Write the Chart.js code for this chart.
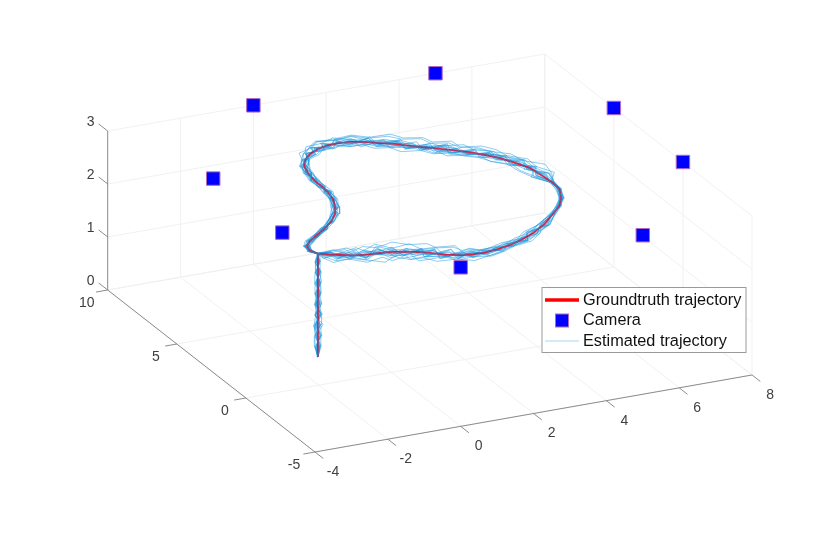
<!DOCTYPE html>
<html lang="en">
<head>
  <meta charset="UTF-8">
  <title>Trajectory</title>
  <script src="https://cdn.jsdelivr.net/npm/chart.js"></script>
  <style>
    body { margin: 0; background: #fff; }
    #myChart { display: block; filter: blur(0.45px); }
  </style>
</head>
<body>
  <canvas id="myChart" width="831" height="533"></canvas>

  <script>
    // Axis ticks of the 3D box
    const xTicks = [-4, -2, 0, 2, 4, 6, 8];
    const yTicks = [-5, 0, 5, 10];
    const zTicks = [0, 1, 2, 3];

    // Cameras (metres)
    const camX = [0, 5, 8, 8, -3, -3, 5, 0];
    const camY = [10, 10, 5, 0, 5, 0, -5, -5];
    const camZ = [3, 3, 3, 3, 3, 3, 3, 3];

    // Groundtruth trajectory: climb, then the loop
    const gtX = [-1.21, -1.21, -1.21, -1.21, -1.21, -1.21, -1.21, -1.21, -1.21, -1.21,
      -1.21, -1.01, -0.75, -0.50, -0.19, 0.20, 0.50, 0.80, 1.08, 1.32, 1.61, 1.93, 2.22, 2.57, 2.96,
      3.34, 3.77, 4.20, 4.69, 5.19, 5.56, 5.84, 6.05, 6.09, 6.04, 6.00, 5.81, 5.61, 5.36, 5.10, 4.82,
      4.53, 4.23, 3.94, 3.66, 3.35, 3.05, 2.71, 2.41, 2.09, 1.79, 1.47, 1.19, 0.99, 0.88, 0.81, 0.80,
      0.78, 0.69, 0.52, 0.31, -0.01, -0.37, -0.75, -1.03, -1.24, -1.31, -1.21];
    const gtY = [2.14, 2.14, 2.14, 2.14, 2.14, 2.14, 2.14, 2.14, 2.14, 2.14,
      2.14, 1.94, 1.74, 1.55, 1.41, 1.36, 1.28, 1.14, 0.93, 0.70, 0.38, 0.15, 0.02, 0.00, 0.09,
      0.24, 0.49, 0.84, 1.33, 2.01, 2.53, 3.10, 3.82, 4.44, 5.11, 5.79, 6.37, 6.94, 7.37, 7.76, 8.11,
      8.42, 8.74, 9.05, 9.40, 9.67, 9.95, 10.15, 10.23, 10.19, 10.05, 9.78, 9.39, 8.95, 8.37, 7.76, 7.21,
      6.66, 6.07, 5.43, 4.91, 4.36, 3.92, 3.50, 3.20, 2.86, 2.45, 2.14];
    const gtZ = [0, 0.2, 0.4, 0.6, 0.8, 1, 1.2, 1.4, 1.6, 1.8,
      1.95, 1.95, 1.95, 1.95, 1.95, 1.95, 1.95, 1.95, 1.95, 1.95, 1.95, 1.95, 1.95, 1.95, 1.95,
      1.95, 1.95, 1.95, 1.95, 1.95, 1.95, 1.95, 1.95, 1.95, 1.95, 1.95, 1.95, 1.95, 1.95, 1.95, 1.95,
      1.95, 1.95, 1.95, 1.95, 1.95, 1.95, 1.95, 1.95, 1.95, 1.95, 1.95, 1.95, 1.95, 1.95, 1.95, 1.95,
      1.95, 1.95, 1.95, 1.95, 1.95, 1.95, 1.95, 1.95, 1.95, 1.95, 1.95];

    // Estimated runs: sideways error from the groundtruth at each point, in cm
    const run1 = [0,3,-4,6,-2,4,-3,5,-2,3,-2, 10,-25,18,-30,35,-12,28,-40,20,-15,30,-22,14, -8,12,-10,14,-6, 4,-3,5,-2,6, -15,10,-22,8,-18, 12,-20,30,-12,24,-35,10,-28,18,-14,30,-10,6, -3,5,-6,3,-8,6,-4,7,-5,4,-6,8,-3,5,-4,2];
    const run2 = [0,-5,7,-3,9,-6,3,-4,6,-3,4, -20,-45,-30,-60,-35,-70,-48,-62,-40,-55,-32,-50,-28, -20,-12,-22,-10,-15, -6,-3,-7,-4,-5, -30,-45,-25,-40,-30, -40,-25,-50,-35,-60,-40,-55,-30,-48,-26,-42,-20,-30, -8,-12,-6,-10,-7,-11,-5,-9,-12,-7,-10,-6,-8,-4,-6,-2];
    const run3 = [0,4,-2,5,-7,10,-4,2,-5,4,1, 30,55,40,70,45,80,55,68,42,60,36,52,25, 22,14,24,10,16, 5,8,3,7,4, 25,35,20,32,24, 30,18,40,25,48,30,42,22,36,20,34,15,25, 8,12,6,10,9,13,6,10,12,7,9,5,8,6,4,2];
    const run4 = [0,-3,2,-12,5,-8,4,-3,7,-4,2, -10,15,-35,42,-5,-50,25,10,-32,38,-12,20,-8, 12,-16,6,-14,8, -3,5,-2,4,-3, 14,-12,18,-20,10, -18,22,-42,15,-8,32,-25,40,-15,-30,12,-22,15, 5,-7,9,-4,6,-9,3,-6,8,-5,7,-3,9,-6,4,-1];
    const run5 = [0,2,-6,14,-9,5,-2,6,-3,2,-3, 22,-12,48,-28,58,14,-38,30,-18,44,-24,12,-30, -24,8,-18,20,-10, 7,-4,6,-5,3, -38,-18,-42,-24,-48, -55,-30,-65,-45,-70,-50,-72,-38,-55,-35,-45,-25,-18, -6,-10,-3,-8,4,-5,-9,-3,-6,-10,-4,-7,-2,-5,-3,1];
    const run6 = [0,-2,3,-5,2,-4,6,-2,3,-1,2, 6,12,-8,5,-15,10,-6,14,-9,4,-12,8,-5, 5,-7,9,-5,6, 2,-1,3,-2,2, 8,-6,10,-5,7, -8,5,-12,9,-6,11,-7,4,-10,6,-9,7,-4, 2,-3,4,-2,3,-4,2,-3,4,-2,3,-4,2,-3,2,-1];
    const run7 = [0,4,-3,2,-5,3,-6,4,-2,5,-3, -8,-16,6,-22,12,-18,8,-12,16,-20,7,-14,10, -9,6,-12,7,-5, -2,3,-1,2,-3, -6,9,-12,6,-9, 10,-7,14,-11,8,-13,16,-6,10,-8,12,-5,7, -2,4,-3,5,-2,3,-5,2,-4,3,-2,5,-3,2,-3,1];
    const run8 = [0,-6,11,-4,3,-10,2,-3,2,-5,3, 38,22,62,34,-14,-28,-55,-36,-66,-20,14,36,18, 26,30,14,28,12, 9,5,2,-3,-6, -12,6,-28,-10,-34, -20,-48,-28,-8,14,26,8,-16,-44,-22,-50,-28,-12, 10,14,8,13,5,-3,-8,-12,-6,-9,3,8,12,9,3,0];
    const run9 = [0,7,-2,-8,6,-3,8,-5,3,-2,-4, -30,-60,-22,-42,-78,-44,-20,-58,-30,-12,-44,-18,-36, -26,-16,-30,-18,-8, -8,-5,-2,-6,-4, -22,-10,-32,-16,-12, 8,20,34,14,-6,-22,4,24,38,20,28,12,18, -5,3,-9,-12,-8,-13,-7,4,8,3,-5,-9,-12,-8,-5,-2];
    const run10 = [0,-4,5,-9,12,-3,5,-7,4,-2,5, 14,44,8,36,75,30,62,24,50,72,28,46,20, 10,24,8,20,14, 3,8,5,9,6, 18,30,12,34,16, 25,45,18,8,-16,-32,-12,6,-20,-46,-24,-38,-14, 12,7,13,8,-4,5,12,8,-7,-11,-4,6,11,5,6,2];
    const run11 = [0,1,-3,4,-2,3,-2,2,-3,2,-1, -3,7,-10,8,-4,11,-7,3,-9,6,-4,8,-6, 3,-5,6,-3,4, 1,-2,1,-1,2, -5,4,-7,3,-5, 6,-4,8,-6,3,-7,5,-3,7,-5,4,-6,3, -1,2,-2,3,-1,2,-3,1,-2,2,-1,3,-2,1,-2,0];
    const run12 = [0,-2,6,-3,8,-5,-2,6,-4,3,-2, 18,-6,-24,12,30,-16,-8,26,-34,-10,22,-28,6, -14,10,4,-12,9, -4,2,-5,3,-1, 10,-16,4,-24,-6, 16,-14,-34,-5,20,-18,-30,12,-6,24,-16,8,-10, 4,8,-2,-7,-2,9,4,-3,-8,-4,5,9,3,-4,-3,1];
    const run13 = [0,6,8,-7,5,8,-6,-8,7,6,-5, -14,20,6,-18,24,-8,-20,12,22,-10,-24,16,4, 10,14,-8,-12,11, -2,4,3,-4,-2, 12,-8,-14,10,16, -12,18,8,-20,-6,16,22,-14,-18,10,-8,14,-12, 6,-8,-5,8,7,-6,8,5,-7,-8,6,4,-7,6,5,-2];
    const run14 = [0,-7,-8,6,-7,-6,8,6,-8,-6,6, 16,-18,-8,22,-14,20,12,-26,-10,18,8,-20,-12, -10,-14,8,10,-12, 3,-4,-3,4,3, -10,14,8,-16,-12, 14,-10,-18,20,12,-16,-8,20,12,-18,10,-12,14, -7,7,6,-8,-6,7,-7,-5,6,8,-7,-6,6,-6,-4,2];
    const run15 = [0,5,-8,-9,8,-4,9,7,-6,-7,3, -26,8,32,-16,-6,34,-26,-4,28,-30,12,26,-18, 16,-6,-16,4,16, 5,1,-5,-3,5, 20,-4,14,-12,24, -26,8,22,-30,18,6,-24,-10,28,4,-22,20,-8, 9,-4,-10,5,10,-8,5,9,-10,-3,9,-8,-5,8,-6,1];
    const run16 = [0,-8,9,8,-8,6,-9,5,9,-8,-6, 24,-30,-14,28,10,-32,14,24,-22,26,-28,-8,22, -18,4,14,-6,-14, -5,-2,6,2,-6, -22,8,-10,18,-20, 24,-12,-24,26,-20,-4,26,12,-28,-6,24,-18,10, -9,6,9,-6,-9,10,-6,-8,9,5,-9,7,7,-8,7,-1];
    const run17 = [0,9,-5,-11,-6,10,4,-9,-8,7,8, 4,-36,24,-8,40,-24,-34,18,40,-6,-36,30,-16, -4,18,-14,-20,6, 1,-6,4,5,-4, -26,16,-30,14,-28, -32,24,-16,-36,28,-26,12,-40,22,-32,18,-26,16, 4,-10,11,7,-11,4,10,-9,3,-11,10,7,-10,4,-8,2];
    const run18 = [0,-9,-10,9,10,-8,-7,10,5,-8,7, -34,26,-12,-40,16,38,-30,-18,30,-36,18,-10,28, 20,-10,-18,16,-16, -4,6,-6,-1,5, 28,-20,24,-8,-24, 20,32,-30,16,-36,20,28,-30,14,32,-28,24,-18, -10,-5,-12,10,4,-11,-5,11,-9,6,-12,-4,10,-9,7,-1];
    // Chart.js paints the first dataset on top, these two cross over the red line
    const runsOverGt = [run7, run14];
    const runsUnderGt = [run1, run2, run3, run4, run5, run6, run8, run9, run10, run11, run12, run13, run15, run16, run17, run18];

    const legendLabels = ['Groundtruth trajectory', 'Camera', 'Estimated trajectory'];

    // Fixed MATLAB-style view: world metres -> position on the flat chart
    function project(x, y, z) {
      return {
        x: 315 + (x + 4) * 36.42 - (y + 5) * 13.82,
        y: 452 - (x + 4) * 6.417 - (y + 5) * 10.8 - z * 53
      };
    }

    // Build a list of line pieces, NaN points break the line
    function segments(list) {
      const pts = [];
      list.forEach(s => {
        pts.push(project(s[0], s[1], s[2]), project(s[3], s[4], s[5]), { x: NaN, y: NaN });
      });
      return pts;
    }

    const gridLines = [];
    xTicks.forEach(x => {
      gridLines.push([x, -5, 0, x, 10, 0]); // floor
      gridLines.push([x, 10, 0, x, 10, 3]); // back wall
    });
    yTicks.forEach(y => {
      gridLines.push([-4, y, 0, 8, y, 0]);  // floor
      gridLines.push([8, y, 0, 8, y, 3]);   // right wall
    });
    zTicks.forEach(z => {
      gridLines.push([-4, 10, z, 8, 10, z]);
      gridLines.push([8, -5, z, 8, 10, z]);
    });

    const axisLines = [
      [-4, -5, 0, 8, -5, 0],
      [-4, -5, 0, -4, 10, 0],
      [-4, 10, 0, -4, 10, 3]
    ];
    xTicks.forEach(x => axisLines.push([x, -5, 0, x, -5.6, 0]));
    yTicks.forEach(y => axisLines.push([-4, y, 0, -4.32, y, 0]));
    zTicks.forEach(z => axisLines.push([-4, 10, z, -4, 10.65, z]));

    const gtPoints = gtX.map((x, i) => project(x, gtY[i], gtZ[i]));
    const camPoints = camX.map((x, i) => project(x, camY[i], camZ[i]));

    // A run is the groundtruth moved sideways by its own error
    function runPoints(err) {
      return gtX.map((x, i) => {
        const a = Math.max(i - 1, 0), b = Math.min(i + 1, gtX.length - 1);
        let tx = gtX[b] - gtX[a], ty = gtY[b] - gtY[a];
        const len = Math.hypot(tx, ty);
        // the climb has no sideways direction of its own
        const nx = len ? -ty / len : 1, ny = len ? tx / len : 0;
        return project(x + nx * err[i] / 100, gtY[i] + ny * err[i] / 100, gtZ[i]);
      });
    }

    function runDataset(r) {
      return { data: runPoints(r), showLine: true, pointRadius: 0,
        borderColor: 'rgba(25,150,220,0.55)', borderWidth: 0.9 };
    }

    const datasets = [
      { data: camPoints, showLine: false, pointStyle: 'rect', pointRadius: 9.5,
        backgroundColor: '#0000ff', borderColor: '#b06ac0', borderWidth: 1 }
    ];
    runsOverGt.forEach(r => datasets.push(runDataset(r)));
    datasets.push({ data: gtPoints, showLine: true, pointRadius: 0, borderColor: 'rgba(215,20,60,0.9)', borderWidth: 1.8 });
    runsUnderGt.forEach(r => datasets.push(runDataset(r)));
    datasets.push({ data: segments(axisLines), showLine: true, pointRadius: 0, borderColor: '#808080', borderWidth: 0.9 });
    datasets.push({ data: segments(gridLines), showLine: true, pointRadius: 0, borderColor: '#efefef', borderWidth: 0.9 });

    // Tick labels and the legend box
    const labelsPlugin = {
      id: 'labels',
      afterDatasetsDraw(chart) {
        const ctx = chart.ctx;
        ctx.save();
        ctx.font = '14px "Liberation Sans"';
        ctx.fillStyle = '#404040';
        ctx.textAlign = 'center';
        ctx.textBaseline = 'middle';
        xTicks.forEach(x => {
          const p = project(x, -5, 0);
          ctx.fillText(x, p.x + 18, p.y + 20);
        });
        yTicks.forEach(y => {
          const p = project(-4, y, 0);
          ctx.fillText(y, p.x - 21, p.y + 13);
        });
        zTicks.forEach(z => {
          const p = project(-4, 10, z);
          ctx.fillText(z, p.x - 17, p.y - 9);
        });

        // legend
        ctx.fillStyle = '#fff';
        ctx.strokeStyle = '#9a9a9a';
        ctx.lineWidth = 1;
        ctx.fillRect(542, 287.5, 204, 65);
        ctx.strokeRect(542, 287.5, 204, 65);

        ctx.strokeStyle = '#ff0000';
        ctx.lineWidth = 3.5;
        ctx.beginPath(); ctx.moveTo(545, 300); ctx.lineTo(579, 300); ctx.stroke();

        ctx.fillStyle = '#0000ff';
        ctx.strokeStyle = '#b06ac0';
        ctx.lineWidth = 1;
        ctx.fillRect(555.5, 314, 13, 13);
        ctx.strokeRect(555.5, 314, 13, 13);

        ctx.strokeStyle = '#a6d8ee';
        ctx.lineWidth = 1.2;
        ctx.beginPath(); ctx.moveTo(545, 341); ctx.lineTo(579, 341); ctx.stroke();

        ctx.font = '16.3px "Liberation Sans"';
        ctx.fillStyle = '#111';
        ctx.textAlign = 'left';
        ctx.fillText(legendLabels[0], 583, 300.5);
        ctx.fillText(legendLabels[1], 583, 321);
        ctx.fillText(legendLabels[2], 583, 342);
        ctx.restore();
      }
    };

    new Chart(document.getElementById('myChart').getContext('2d'), {
      type: 'scatter',
      data: { datasets: datasets },
      plugins: [labelsPlugin],
      options: {
        responsive: false,
        animation: false,
        layout: { padding: 0, autoPadding: false },
        elements: { line: { tension: 0 } },
        plugins: { legend: { display: false }, tooltip: { enabled: false } },
        scales: {
          x: { type: 'linear', display: false, min: 0, max: 831 },
          y: { type: 'linear', display: false, min: 0, max: 533, reverse: true }
        }
      }
    });
  </script>
</body>
</html>
